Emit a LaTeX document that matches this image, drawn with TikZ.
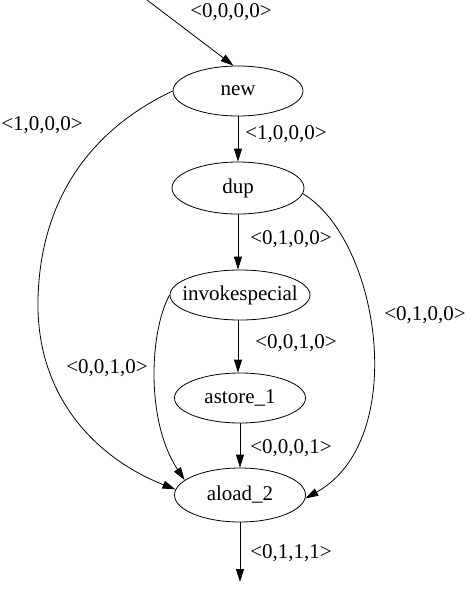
\documentclass[tikz,border=0pt]{standalone}
\usepackage{fontspec}
\setmainfont{Liberation Serif}
\usetikzlibrary{arrows.meta,shapes.geometric}

\tikzset{
  op/.style={draw, ellipse, line width=0.8pt, inner sep=0pt,
    minimum width=130pt, minimum height=50pt, font=\fontsize{21}{25}\selectfont},
  flow/.style={line width=0.8pt, -{Triangle[length=13pt,width=8pt]}},
  vec/.style={font=\fontsize{21}{25}\selectfont, inner sep=0pt},
}

\begin{document}
\begin{tikzpicture}[x=1pt,y=-1pt]
    \useasboundingbox (0,0) rectangle (474,595);

    % Instructions
    \node[op] (new) at (238,91) {new};
    \node[op, minimum width=132pt, minimum height=52pt] (dup) at (238,188) {dup};
    \node[op, minimum width=140pt, inner xsep=-12pt] (inv) at (240,295) {invokespecial};
    \node[op, minimum width=131pt] (ast) at (240,398) {astore\_1};
    \node[op, minimum width=131pt, minimum height=54pt] (ald) at (240,495) {aload\_2};

    % Free ends
    \coordinate (entry) at (147,0);
    \coordinate (exit) at (240,582);

    % Straight flow
    \draw[flow] (entry) -- (new.100);
    \draw[flow] (new.south -| 238,0) -- (dup.north -| 238,0);
    \draw[flow] (dup.south -| 238,0) -- (inv.north -| 238,0);
    \draw[flow] (inv.south -| 238,0) -- (ast.north -| 238,0);
    \draw[flow] (ast) -- (ald);
    \draw[flow] (ald) -- (exit);

    % Jumps down to aload_2
    \draw[flow] (new.west) .. controls (90,130) and (40,200) .. (38,300)
        .. controls (36,400) and (100,460) .. (ald.175);
    \draw[flow] (inv.west) .. controls (150,330) and (145,420) .. (ald.165);
    \draw[flow] (dup.-5) .. controls (380,240) and (410,440) .. (ald.-3);

    % State vectors
    \node[vec] (v0) at (231,12) {<0,0,0,0>};
    \node[vec] (v1) at (286,134) {<1,0,0,0>};
    \node[vec] (v1b) at (42,125) {<1,0,0,0>};
    \node[vec] (v2) at (291,239) {<0,1,0,0>};
    \node[vec] (v2b) at (425,315) {<0,1,0,0>};
    \node[vec] (v3) at (296,343) {<0,0,1,0>};
    \node[vec] (v3b) at (107,368) {<0,0,1,0>};
    \node[vec] (v4) at (291,448) {<0,0,0,1>};
    \node[vec] (v5) at (291,553) {<0,1,1,1>};
\end{tikzpicture}
\end{document}
